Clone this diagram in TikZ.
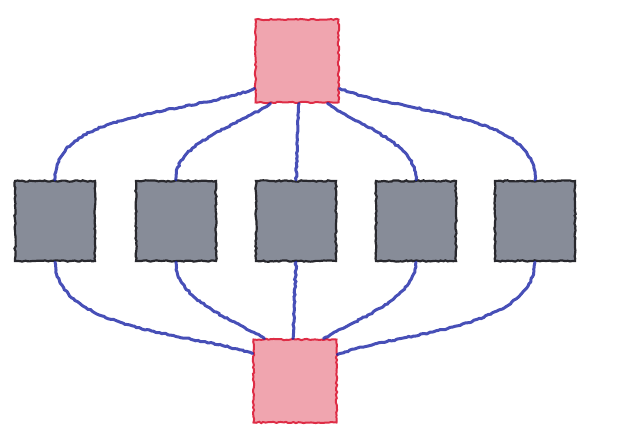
\documentclass[tikz,border=0pt]{standalone}
\usepackage{tikz}
\usetikzlibrary{arrows,decorations.pathmorphing}

\definecolor{hubred}{RGB}{222,45,70}
\definecolor{hubpink}{RGB}{240,165,175}
\definecolor{midgrey}{RGB}{135,140,152}
\definecolor{midedge}{RGB}{40,40,45}
\definecolor{wireblue}{RGB}{25,35,165}

\tikzset{
  sketch/.style={decorate, decoration={random steps, segment length=2.5pt, amplitude=0.7pt}},
  hub/.style={sketch, draw=hubred, fill=hubpink, line width=2pt, minimum size=83pt, inner sep=0pt},
  mid/.style={sketch, draw=midedge, fill=midgrey, line width=2.2pt, minimum size=80pt, inner sep=0pt},
  wire/.style={sketch, draw=wireblue, line width=3pt, draw opacity=0.8, line cap=round}
}

\begin{document}
\begin{tikzpicture}[x=1pt, y=1pt]
\useasboundingbox (0,0) rectangle (621,445);

\node (src) at (297,384) [hub] {};
\node (m1) at (55,224) [mid] {};
\node (m2) at (176,224) [mid] {};
\node (m3) at (296,224) [mid] {};
\node (m4) at (416,224) [mid] {};
\node (m5) at (535,224) [mid] {};
\node (dst) at (295,64) [hub] {};

\draw [wire] ([yshift=15pt]src.south west) to[out=202, in=92, looseness=0.8] (m1.north);
\draw [wire] ([xshift=16pt]src.south west) to[out=215, in=92, looseness=0.8] (m2.north);
\draw [wire] ([xshift=2pt]src.south) -- (m3.north);
\draw [wire] ([xshift=-12pt]src.south east) to[out=-35, in=88, looseness=0.8] (m4.north);
\draw [wire] ([yshift=15pt]src.south east) to[out=-22, in=88, looseness=0.8] (m5.north);

\draw [wire] (m1.south) to[out=-88, in=162, looseness=0.8] ([yshift=-15pt]dst.north west);
\draw [wire] (m2.south) to[out=-92, in=150, looseness=0.8] ([xshift=12pt]dst.north west);
\draw [wire] (m3.south) -- ([xshift=-2pt]dst.north);
\draw [wire] (m4.south) to[out=-92, in=30, looseness=0.8] ([xshift=-14pt]dst.north east);
\draw [wire] (m5.south) to[out=-92, in=20, looseness=0.8] ([yshift=-16pt]dst.north east);
\end{tikzpicture}
\end{document}
